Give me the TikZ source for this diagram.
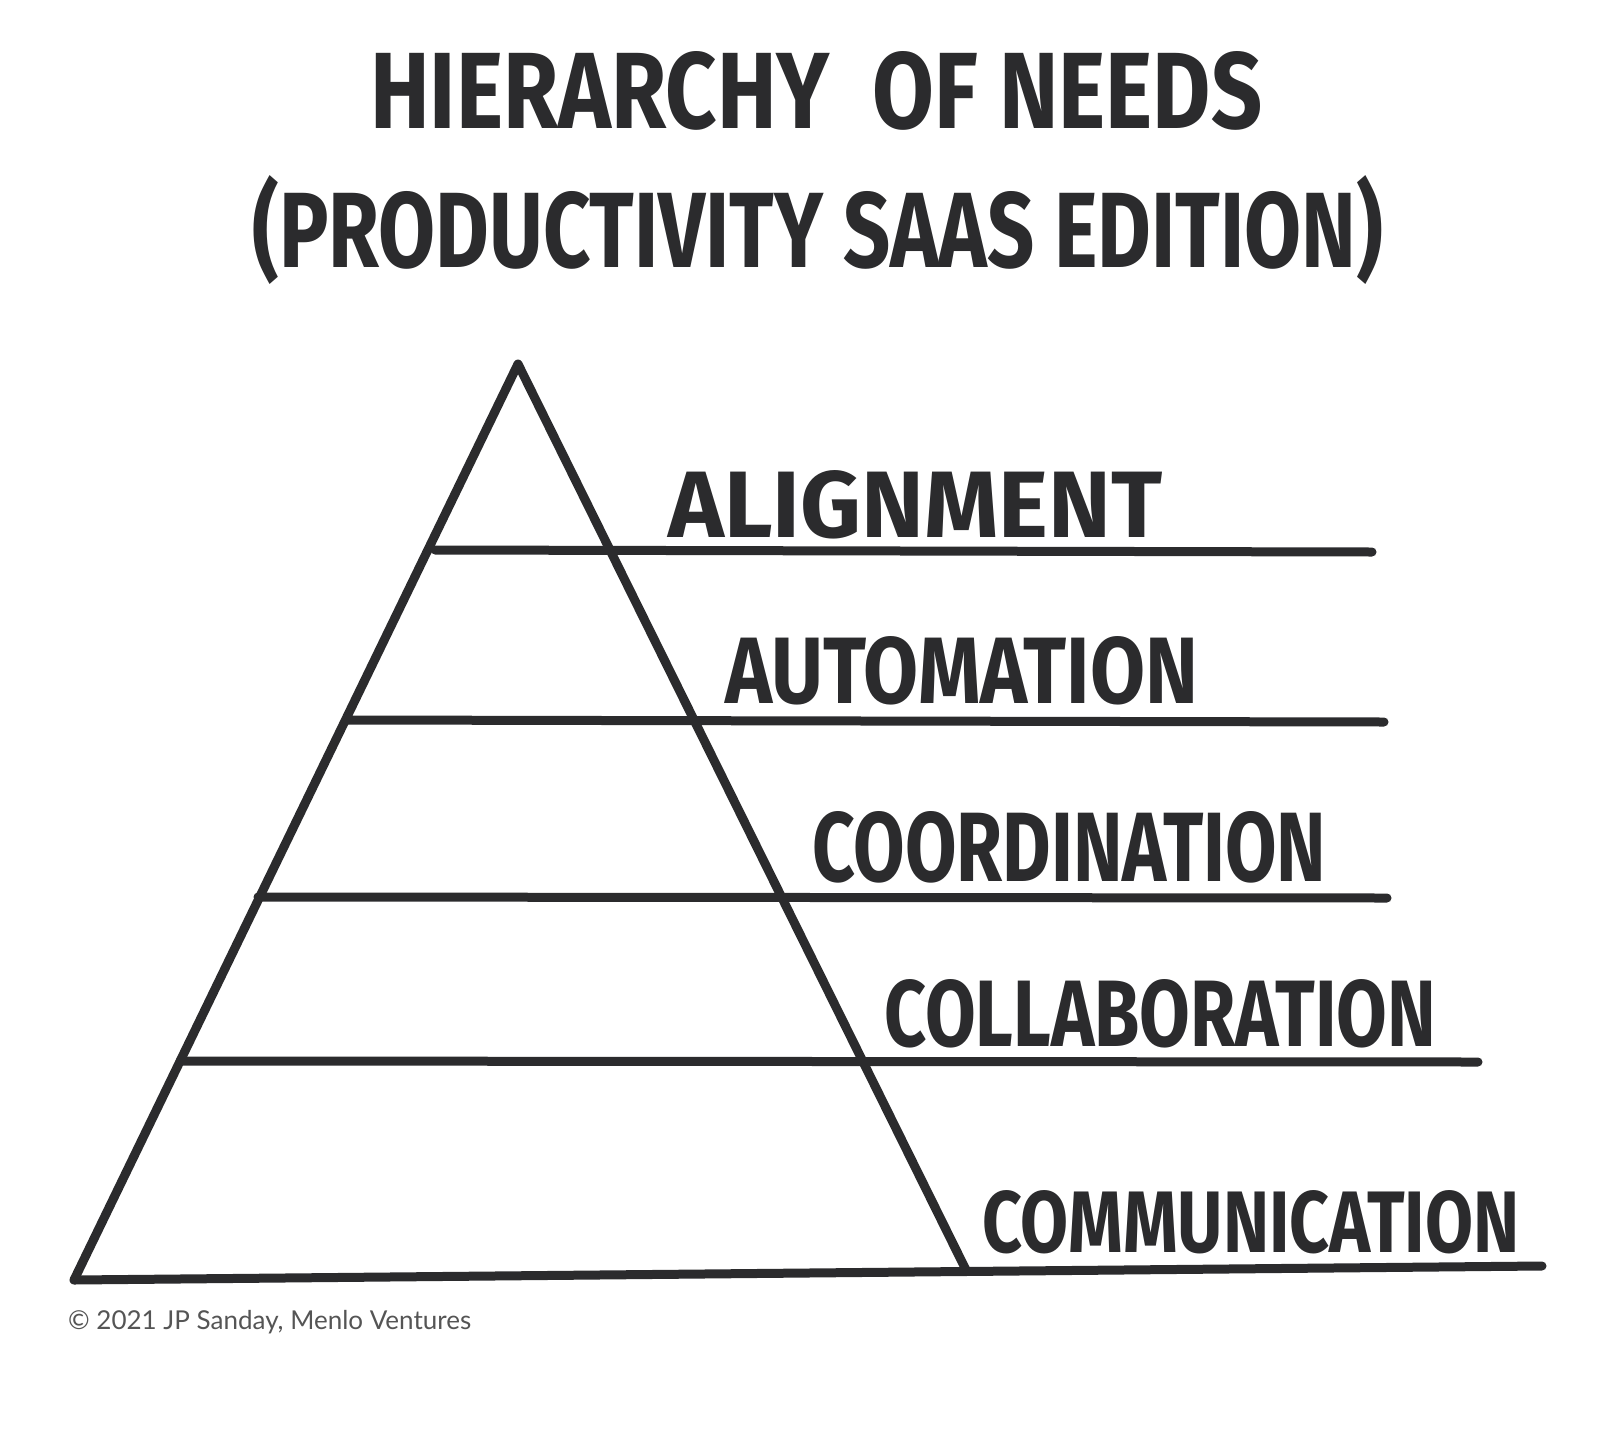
\documentclass[tikz,border=0pt]{standalone}
\usepackage{fontspec}
\setmainfont{Fira Sans}
\newfontfamily\capfont{Lato}
\definecolor{ink}{HTML}{2B2B2D}
\definecolor{fine}{HTML}{555555}
\begin{document}
\begin{tikzpicture}[x=1pt,y=-1pt,
  stroke/.style={draw=ink,line width=9pt,line cap=round,line join=round},
  hand/.style={inner sep=0pt,anchor=north west,text=ink,font=\bfseries}]
\useasboundingbox (0,0) rectangle (1612,1443);
\fill[white] (0,0) rectangle (1612,1443);
% title
\node[hand] (t1) at (370,51) {\resizebox{892pt}{77pt}{\fontsize{60}{60}\selectfont HIERARCHY\ \ OF NEEDS}};
\node[hand] (t2) at (252,175) {\resizebox{1131pt}{92pt}{\fontsize{60}{60}\selectfont (PRODUCTIVITY SAAS EDITION)}};
% pyramid
\coordinate (apex) at (518,364);
\coordinate (bl) at (74,1280);
\coordinate (br) at (966,1270);
\coordinate (l1a) at (435,550);  \coordinate (l1b) at (1372,552);
\coordinate (l2a) at (347,720);  \coordinate (l2b) at (1384,722);
\coordinate (l3a) at (258,897);  \coordinate (l3b) at (1387,898);
\coordinate (l4a) at (180,1061); \coordinate (l4b) at (1478,1062);
\coordinate (l5b) at (1542,1266);
\draw[stroke] (bl) -- (apex) -- (br);
\draw[stroke] (l1a) -- (l1b);
\draw[stroke] (l2a) -- (l2b);
\draw[stroke] (l3a) -- (l3b);
\draw[stroke] (l4a) -- (l4b);
\draw[stroke] (bl) -- (l5b);
% labels
\node[hand] (n1) at (668,470) {\resizebox{494pt}{67pt}{\fontsize{60}{60}\selectfont ALIGNMENT}};
\node[hand] (n2) at (725,636) {\resizebox{473pt}{67pt}{\fontsize{60}{60}\selectfont AUTOMATION}};
\node[hand] (n3) at (812,811) {\resizebox{514pt}{70pt}{\fontsize{60}{60}\selectfont COORDINATION}};
\node[hand] (n4) at (884,979) {\resizebox{552pt}{67pt}{\fontsize{60}{60}\selectfont COLLABORATION}};
\node[hand] (n5) at (982,1190) {\resizebox{537pt}{62pt}{\fontsize{60}{60}\selectfont COMMUNICATION}};
% credit
\node[inner sep=0pt,anchor=west,text=fine] (cr) at (68,1322) {\capfont\fontsize{26}{26}\selectfont © 2021 JP Sanday, Menlo Ventures};
\end{tikzpicture}
\end{document}
